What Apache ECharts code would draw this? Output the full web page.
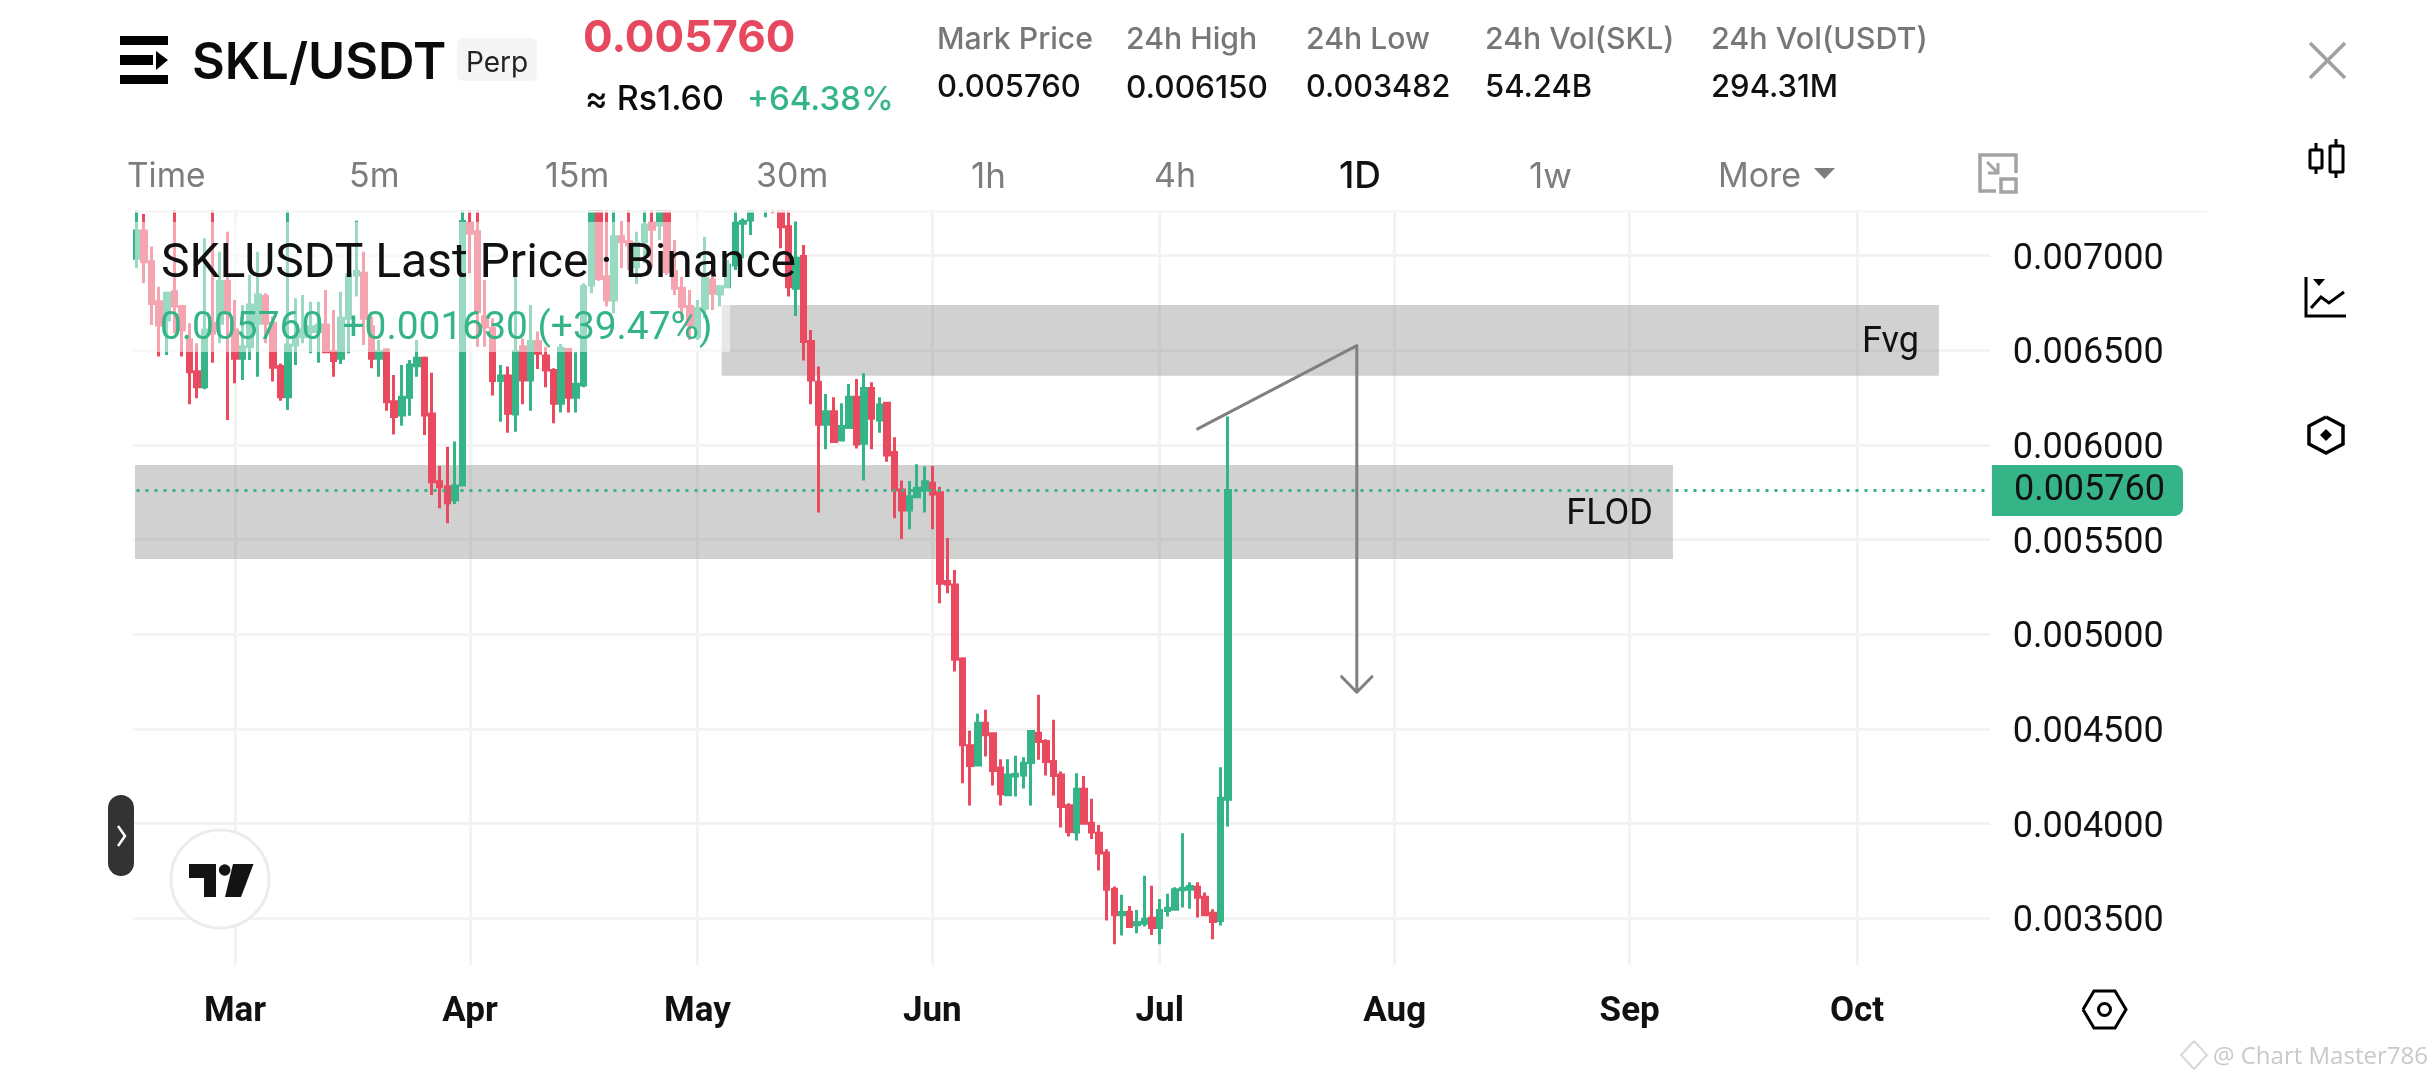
<!DOCTYPE html>
<html><head><meta charset="utf-8">
<style>html,body{margin:0;padding:0;background:#fff}#c{width:2436px;height:1080px}</style>
<script src="https://cdn.jsdelivr.net/npm/echarts@6/dist/echarts.min.js"></script>
</head><body><div id="c"></div>
<script>
const monthNames = ['Feb','Mar','Apr','May','Jun','Jul','Aug','Sep','Oct'];
const monthDays  = [28,31,30,31,30,31,31,30,18];
const categories = [];
monthNames.forEach((m, k) => { for (let d = (k === 0 ? 16 : 1); d <= monthDays[k]; d++) categories.push(m + ' ' + d); });
const monthTicks = ['Mar 1','Apr 1','May 1','Jun 1','Jul 1','Aug 1','Sep 1','Oct 1'];
const priceTicks = [0.0035,0.004,0.0045,0.005,0.0055,0.006,0.0065,0.007];
const lastPrice = 0.00576;
const lastPriceDates = ['Feb 16','Oct 18'];
// zone edges are day offsets from Feb 16
const zones = [
  {from:-0.2, to:202.7, low:0.005398, high:0.005894, name:'FLOD'},
  {from:77.2, to:237.8, low:0.006366, high:0.00674, name:'Fvg'}
];
const arrowDates  = ['Jul 6','Jul 27','Jul 27','Jul 25','Jul 27','Jul 29'];
const arrowValues = [0.006085,0.006525,0.004694,0.004776,0.004694,0.004776];
// open, close, low, high from Feb 16
const candles = [
[0.006986,0.00713,0.006933,0.0073],[0.00713,0.006968,0.006854,0.00722],[0.006968,0.006748,0.006634,0.007048],[0.006757,0.006634,0.006467,0.006836],
[0.00666,0.006801,0.006475,0.00681],[0.00681,0.006734,0.00659,0.00728],[0.006731,0.006608,0.006467,0.00674],[0.006555,0.006387,0.006215,0.006643],
[0.006387,0.006308,0.006247,0.006537],[0.006308,0.006607,0.006294,0.007092],[0.006643,0.00659,0.006435,0.0073],[0.006643,0.006863,0.006537,0.007021],
[0.006863,0.006696,0.006132,0.007127],[0.006608,0.006458,0.006326,0.006766],[0.006458,0.006519,0.006343,0.00674],[0.006519,0.00674,0.006449,0.006898],
[0.006643,0.006792,0.006361,0.007021],[0.006784,0.006643,0.006537,0.006801],[0.006643,0.00641,0.006335,0.006678],[0.006414,0.006255,0.006234,0.006431],
[0.006255,0.006528,0.006185,0.00729],[0.006528,0.006572,0.006423,0.006775],[0.006572,0.006607,0.006537,0.006792],[0.006599,0.006625,0.006484,0.006757],
[0.006599,0.006634,0.006435,0.006757],[0.006634,0.006493,0.00649,0.006819],[0.006493,0.006446,0.006361,0.006713],[0.006458,0.006669,0.006428,0.00681],
[0.006669,0.006898,0.006484,0.006933],[0.006898,0.006916,0.006784,0.007185],[0.006907,0.006669,0.006528,0.007021],[0.006625,0.006458,0.006405,0.006678],
[0.006458,0.006493,0.006361,0.006555],[0.006502,0.006229,0.006181,0.006511],[0.006229,0.00615,0.006056,0.00637],[0.006159,0.006252,0.006102,0.006423],
[0.006252,0.006423,0.006155,0.006449],[0.006419,0.006458,0.006361,0.006555],[0.006458,0.006159,0.006053,0.006467],[0.006164,0.005806,0.005736,0.006382],
[0.005806,0.00578,0.005666,0.005889],[0.00578,0.005695,0.005586,0.005991],[0.00571,0.005783,0.005688,0.006018],[0.005789,0.00718,0.005785,0.0073],
[0.007171,0.007118,0.006907,0.00735],[0.007127,0.006704,0.006519,0.00735],[0.006678,0.006625,0.006519,0.006872],[0.006616,0.00634,0.006261,0.006669],
[0.00634,0.006365,0.006123,0.006423],[0.006365,0.006167,0.006065,0.006414],[0.006164,0.006493,0.00607,0.006889],[0.006519,0.006343,0.006215,0.006563],
[0.006343,0.006546,0.006181,0.00674],[0.006546,0.006484,0.006401,0.006599],[0.00647,0.006396,0.006305,0.006519],[0.006393,0.00622,0.006115,0.006405],
[0.00622,0.006511,0.006171,0.006534],[0.006505,0.006252,0.006171,0.006511],[0.006252,0.006321,0.006171,0.00649],[0.006317,0.006836,0.006305,0.006854],
[0.006845,0.0073,0.006801,0.0075],[0.0073,0.00688,0.006868,0.0074],[0.006889,0.006766,0.006731,0.0073],[0.006766,0.0071,0.006696,0.00728],
[0.0071,0.007074,0.006933,0.00718],[0.007074,0.007056,0.006924,0.00728],[0.006942,0.007065,0.00685,0.007127],[0.007074,0.007162,0.00696,0.00728],
[0.007171,0.007139,0.006933,0.00725],[0.007162,0.0073,0.007083,0.0074],[0.0073,0.006916,0.006898,0.0074],[0.006916,0.006828,0.006792,0.007083],
[0.006828,0.006731,0.006669,0.006889],[0.006731,0.006634,0.006555,0.006819],[0.006572,0.006722,0.006555,0.006766],[0.006722,0.00688,0.006669,0.0071],
[0.006872,0.006801,0.006713,0.006924],[0.006798,0.006836,0.006731,0.006845],[0.006836,0.006951,0.006833,0.006977],[0.006951,0.007171,0.006924,0.00728],
[0.007171,0.00718,0.006986,0.007197],[0.007189,0.00728,0.007109,0.00735],[0.0073,0.0074,0.00726,0.00745],[0.00729,0.00733,0.007203,0.0074],
[0.00732,0.00728,0.007224,0.0074],[0.0073,0.007153,0.007039,0.0074],[0.007153,0.006836,0.006784,0.00728],[0.006828,0.006986,0.006681,0.00718],
[0.006995,0.006546,0.006446,0.007056],[0.006546,0.006343,0.006215,0.006607],[0.006331,0.006109,0.005643,0.006414],[0.006109,0.006176,0.005977,0.006269],
[0.006176,0.006018,0.006014,0.006252],[0.006026,0.006097,0.006018,0.00622],[0.006093,0.006252,0.006088,0.006322],[0.006252,0.006005,0.005982,0.006349],
[0.006009,0.006299,0.005812,0.006379],[0.006299,0.006141,0.005977,0.006331],[0.006132,0.006211,0.006065,0.006252],[0.00622,0.005947,0.005912,0.006229],
[0.00596,0.005762,0.005613,0.006041],[0.005762,0.005657,0.005504,0.005812],[0.005657,0.005727,0.005555,0.00581],[0.005727,0.005771,0.005724,0.005898],
[0.005762,0.005806,0.005643,0.005886],[0.005798,0.005741,0.005555,0.005889],[0.005748,0.00527,0.005164,0.00578],[0.005279,0.005266,0.005217,0.005508],
[0.005261,0.004868,0.004803,0.00534],[0.00487,0.004416,0.004213,0.004879],[0.004411,0.004307,0.004095,0.00449],[0.00431,0.00453,0.004301,0.00458],
[0.00453,0.004469,0.004354,0.004601],[0.004474,0.00428,0.004201,0.004477],[0.004293,0.004157,0.004095,0.00434],[0.004152,0.004257,0.004148,0.00434],
[0.004252,0.004261,0.004143,0.004358],[0.004257,0.004319,0.004185,0.004351],[0.004323,0.004486,0.004095,0.004492],[0.004477,0.004433,0.004337,0.00468],
[0.004433,0.004328,0.004254,0.004446],[0.004328,0.004254,0.004148,0.004548],[0.004257,0.00409,0.003979,0.004275],[0.004094,0.003958,0.003932,0.004108],
[0.003955,0.004182,0.003911,0.004266],[0.004182,0.004002,0.003999,0.004252],[0.004002,0.003955,0.003919,0.004131],[0.003949,0.003844,0.003752,0.003993],
[0.003844,0.003653,0.003488,0.003865],[0.003653,0.003518,0.003363,0.003668],[0.003518,0.00353,0.003409,0.003624],[0.003532,0.003456,0.003453,0.003565],
[0.003465,0.003477,0.003421,0.003544],[0.003474,0.003495,0.003456,0.003724],[0.0035,0.003451,0.003412,0.003671],[0.003451,0.003541,0.003363,0.003602],
[0.003541,0.003553,0.003509,0.003629],[0.003548,0.00365,0.003544,0.003664],[0.00365,0.003659,0.003557,0.003949],[0.003653,0.003668,0.00355,0.00369],
[0.003664,0.003611,0.003504,0.00369],[0.003611,0.003518,0.003514,0.003636],[0.003527,0.003483,0.003389,0.003548],[0.003488,0.004134,0.003461,0.004297],
[0.004128,0.00576,0.003984,0.00615]
];
const UP = '#35b487', DOWN = '#e94a60', GRID = '#f3f3f4';
const UI = 'Inter', AX = 'Roboto';

function txt(x, y, s, size, fill, weight, align, family) {
  return {type:'text', z:100, style:{x, y, text:s, fontSize:size, fill:fill, fontWeight:weight||400, fontFamily:family||UI, textAlign:align||'left', textVerticalAlign:'middle'}};
}
function line(pts, stroke, w, fill) {
  return {type: fill ? 'polygon' : 'polyline', z:100, shape:{points:pts}, style: fill ? {fill:stroke} : {stroke, lineWidth:w, fill:null, lineCap:'butt', lineJoin:'miter'}};
}
function rect(x,y,w,h,fill,r,stroke,lw) {
  return {type:'rect', z:100, shape:{x,y,width:w,height:h,r:r||0}, style:{fill:fill, stroke:stroke||null, lineWidth:lw||0}};
}
const G = [
  // white header backing hides wicks that run above the plot
  {type:'rect',z:50,shape:{x:0,y:0,width:2436,height:210.5},style:{fill:'#fff'}},
  // faded legend backing
  rect(135,222,595,130,'rgba(255,255,255,0.5)'),
  txt(161,265,'SKLUSDT Last Price · Binance',48,'#111',400,'left',AX),
  txt(160,329,'0.005760  +0.001630 (+39.47%)',38.9,UP,400,'left',AX),
  // header
  {type:'rect',z:100,shape:{x:135,y:210.5,width:2072,height:2},style:{fill:'#f5f5f5'}},
  rect(120,36,48,9,'#000'), rect(120,55,33,10,'#000'), rect(120,75,48,9,'#000'),
  line([[156,51],[168,60],[156,70]],'#000',0,true),
  txt(192,64,'SKL/USDT',50.5,'#0b0b0b',600),
  rect(457,38,80,43,'#f5f5f5',6),
  txt(497,64,'Perp',28,'#222',400,'center'),
  txt(583,39,'0.005760',44,'#e6485f',700),
  txt(585,100,'≈ Rs1.60',34,'#0b0b0b',500),
  txt(747,100,'+64.38%',33,UP,500),
  txt(937,40,'Mark Price',30.2,'#777',500), txt(937,88,'0.005760',31,'#111',500),
  txt(1126,40,'24h High',30.2,'#777',500), txt(1126,88,'0.006150',31.6,'#111',500),
  txt(1306,40,'24h Low',30.2,'#777',500), txt(1306,88,'0.003482',30.6,'#111',500),
  txt(1485,40,'24h Vol(SKL)',30.2,'#777',500), txt(1485,88,'54.24B',31,'#111',500),
  txt(1711,40,'24h Vol(USDT)',30.5,'#777',500), txt(1711,88,'294.31M',31,'#111',500),
  // tabs
  txt(127,177,'Time',33.5,'#7d7d7d'), txt(349,177,'5m',34,'#7d7d7d'), txt(545,177,'15m',34,'#7d7d7d'),
  txt(756,177,'30m',34,'#7d7d7d'), txt(971,177,'1h',35,'#7d7d7d'), txt(1154,177,'4h',34,'#7d7d7d'),
  txt(1339,177,'1D',37,'#111',500), txt(1529,177,'1w',35,'#7d7d7d'), txt(1718,177,'More',34,'#7d7d7d'),
  line([[1814,168],[1835,168],[1824.5,179]],'#7d7d7d',0,true),
  // layout icon
  line([[1996,155],[2016,155],[2016,173]],'#a3a3a3',3.5),
  line([[1996,155],[1980,155],[1980,191],[1996,191]],'#a3a3a3',3.5),
  rect(2001,179,15,13,null,0,'#a3a3a3',3.5),
  line([[1987,162],[1998,173]],'#a3a3a3',3), line([[1988,173],[1998,173],[1998,163]],'#a3a3a3',3),
  // close
  line([[2310,43],[2345,78]],'#a0a0a0',3.5), line([[2345,43],[2310,78]],'#a0a0a0',3.5),
  // candle icon
  line([[2316,143],[2316,150]],'#000',3), rect(2310,150,12,18,null,1,'#000',3), line([[2316,168],[2316,174]],'#000',3),
  line([[2336,139],[2336,146]],'#000',3), rect(2330,146,13,26,null,1,'#000',3), line([[2336,172],[2336,178]],'#000',3),
  // indicator icon
  line([[2306,277],[2306,316],[2346,316]],'#000',3),
  line([[2313,279],[2325,279],[2319,286]],'#000',0,true),
  line([[2311,308],[2321,297],[2329,303],[2344,292]],'#000',3),
  // hexagon
  line([[2326,417],[2343,426],[2343,444],[2326,453],[2309,444],[2309,426],[2326,417]],'#000',3.5),
  line([[2326,429],[2332,435],[2326,441],[2320,435]],'#000',0,true),
  // bottom hexagon
  line([[2083,1009.5],[2094,991],[2115,991],[2126,1009.5],[2115,1028],[2094,1028],[2083,1009.5]],'#000',3),
  {type:'circle',z:100,shape:{cx:2104.5,cy:1009.5,r:6},style:{fill:null,stroke:'#000',lineWidth:3}},
  // sidebar handle
  rect(108,795,26,81,'#333',13),
  line([[118,826],[125,836],[118,846]],'#fff',2.5),
  // TV badge
  {type:'circle',z:100,shape:{cx:220,cy:879,r:49},style:{fill:'#fff',stroke:'#ececec',lineWidth:3}},
  line([[189,864],[216,864],[216,897],[204,897],[204,878],[189,878]],'#131313',0,true),
  {type:'circle',z:100,shape:{cx:224.7,cy:870,r:5.8},style:{fill:'#131313'}},
  line([[233,864],[253.5,864],[241,897],[225,897]],'#131313',0,true),
  // watermark
  txt(2213,1057,'@ Chart Master786',24,'#c9c9c9',400,'left','Open Sans'),
  line([[2194,1041],[2207,1055],[2194,1069],[2181,1055],[2194,1041]],'#d8d8d8',2)
];

function renderZone(params, api) {
  const z = zones[params.dataIndex];
  const day = api.size([1,0])[0];
  const x0 = api.coord([0,z.low])[0];
  const left = x0 + z.from*day, right = x0 + z.to*day;
  const top = api.coord([0,z.high])[1], bottom = api.coord([0,z.low])[1];
  return {type:'group', children:[
    {type:'rect', shape:{x:left,y:top,width:right-left,height:bottom-top}, style:{fill:'rgba(128,128,128,0.365)'}},
    {type:'text', style:{x:right-20, y:(top+bottom)/2+3, text:z.name, fontSize:36, fontFamily:AX, fill:'#111', textAlign:'right', textVerticalAlign:'middle'}}
  ]};
}

const chart = echarts.init(document.getElementById('c'), null, {renderer:'canvas', width:2436, height:1080});
chart.setOption({
  animation:false,
  backgroundColor:'#fff',
  grid:{left:132.7, width:1857, top:211, bottom:115, containLabel:false},
  xAxis:{type:'category', data:categories, boundaryGap:true,
    axisLine:{show:false}, axisTick:{show:false, alignWithLabel:true, interval:(i,v)=>monthTicks.includes(v)},
    axisLabel:{interval:(i,v)=>monthTicks.includes(v), formatter:v=>v.slice(0,3), color:'#111', fontFamily:AX, fontWeight:700, fontSize:35, margin:30},
    splitLine:{show:true, alignWithLabel:true, interval:(i,v)=>monthTicks.includes(v), lineStyle:{color:GRID,width:3}}},
  yAxis:{type:'value', position:'right', min:0.003253, max:0.007236, 
    axisLine:{show:false}, axisTick:{show:false, customValues:priceTicks},
    axisLabel:{customValues:priceTicks, formatter:v=>v.toFixed(6), color:'#111', fontFamily:AX, fontSize:36, margin:23, verticalAlign:'top', lineHeight:8},
    splitLine:{show:true, lineStyle:{color:GRID,width:3}}},
  series:[
    {type:'custom', name:'zones', z:1, silent:true, renderItem:renderZone, clip:false,
      data:zones.map(z=>[0,z.low]), encode:{x:0,y:1}},
    {type:'candlestick', name:'SKLUSDT', data:candles, barWidth:5, z:2,
      itemStyle:{color:UP,color0:DOWN,borderColor:UP,borderColor0:DOWN,borderWidth:3}},
    {type:'line', name:'last price', data:lastPriceDates.map(d=>[d,lastPrice]), symbol:'none', z:5, silent:true,
      lineStyle:{color:UP,type:[3,6],width:3},
      endLabel:{show:true, distance:6, formatter:()=>'{t|'+lastPrice.toFixed(6)+'}', backgroundColor:UP, padding:[3,18,1,22], borderRadius:[0,8,8,0],
        rich:{t:{color:'#111', fontFamily:AX, fontSize:36, lineHeight:47, verticalAlign:'bottom', height:47}}}},
    {type:'line', name:'arrow', data:arrowDates.map((d,i)=>[d,arrowValues[i]]), symbol:'none', z:4, silent:true,
      lineStyle:{color:'#808080',width:3,join:'round',cap:'round'}}
  ],
  graphic:{elements:G}
});
</script></body></html>
